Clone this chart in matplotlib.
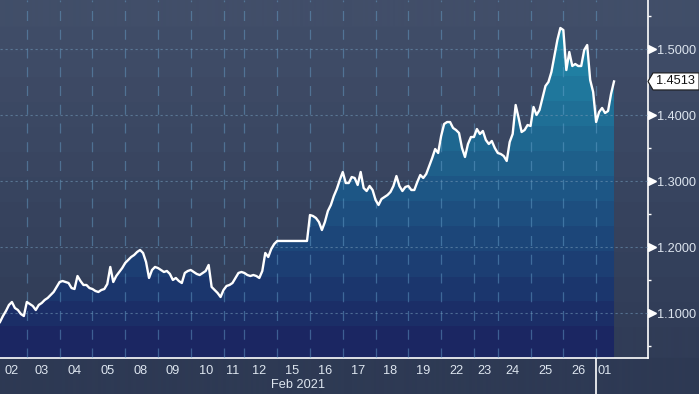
import matplotlib
matplotlib.use('Agg')
import matplotlib.pyplot as plt
import numpy as np
from matplotlib.patches import Polygon
from matplotlib.colors import to_rgb
from matplotlib.transforms import blended_transform_factory, IdentityTransform

plt.rcParams['font.family'] = ['Liberation Sans', 'DejaVu Sans']

# intraday values, one list per trading day (Feb 2021 + 01 Mar)
day_labels = ['02', '03', '04', '05', '08', '09', '10', '11', '12', '15',
              '16', '17', '18', '19', '22', '23', '24', '25', '26', '01']
day_values = [
    [1.0868, 1.0959, 1.1035, 1.1126, 1.1171, 1.1080, 1.1050, 1.0989, 1.0959],
    [1.1171, 1.1141, 1.1111, 1.1050, 1.1126, 1.1156, 1.1202, 1.1232, 1.1277, 1.1323, 1.1399],
    [1.1474, 1.1489, 1.1474, 1.1459, 1.1383, 1.1368, 1.1565, 1.1489, 1.1429, 1.1429, 1.1383],
    [1.1368, 1.1338, 1.1323, 1.1353, 1.1368, 1.1444, 1.1702, 1.1474, 1.1565, 1.1626, 1.1686],
    [1.1762, 1.1808, 1.1853, 1.1883, 1.1929, 1.1959, 1.1914, 1.1777, 1.1535, 1.1656, 1.1702],
    [1.1686, 1.1656, 1.1626, 1.1641, 1.1596, 1.1505, 1.1535, 1.1489, 1.1459, 1.1611, 1.1641],
    [1.1656, 1.1626, 1.1596, 1.1580, 1.1611, 1.1641, 1.1732, 1.1399, 1.1353, 1.1308, 1.1247],
    [1.1353, 1.1414, 1.1429, 1.1459, 1.1535, 1.1611, 1.1626],
    [1.1611, 1.1580, 1.1565, 1.1580, 1.1565, 1.1535, 1.1641, 1.1914, 1.1853, 1.1974, 1.2050],
    [1.2096, 1.2096, 1.2096, 1.2096, 1.2096, 1.2096, 1.2096, 1.2096, 1.2096, 1.2096, 1.2096],
    [1.2489, 1.2474, 1.2444, 1.2383, 1.2262, 1.2383, 1.2550, 1.2641, 1.2777, 1.2883, 1.3020],
    [1.3141, 1.2974, 1.2974, 1.3065, 1.3050, 1.2944, 1.3141, 1.2898, 1.2853, 1.2929, 1.2868],
    [1.2717, 1.2641, 1.2732, 1.2762, 1.2792, 1.2838, 1.2929, 1.3080, 1.2929, 1.2853, 1.2914],
    [1.2929, 1.2868, 1.2868, 1.2989, 1.3095, 1.3050, 1.3111, 1.3232, 1.3353, 1.3489, 1.3429],
    [1.3686, 1.3868, 1.3898, 1.3898, 1.3808, 1.3777, 1.3732, 1.3505, 1.3368, 1.3565, 1.3671],
    [1.3671, 1.3792, 1.3717, 1.3762, 1.3626, 1.3565, 1.3611, 1.3505],
    [1.3429, 1.3414, 1.3383, 1.3308, 1.3595, 1.3717, 1.4156, 1.3959, 1.3747, 1.3777, 1.3853],
    [1.3838, 1.4126, 1.4005, 1.4080, 1.4262, 1.4444, 1.4505, 1.4656, 1.4899, 1.5141, 1.5323],
    [1.5292, 1.4686, 1.4959, 1.4747, 1.4777, 1.4747, 1.4747, 1.4989, 1.5065, 1.4535, 1.4353],
    [1.3898, 1.4050, 1.4111, 1.4035, 1.4065, 1.4323, 1.4513],
]
month_label = 'Feb 2021'
last_value = 1.4513
y_major = [1.1, 1.2, 1.3, 1.4, 1.5]
y_minor = [1.05, 1.15, 1.25, 1.35, 1.45, 1.55]

values = np.concatenate([np.array(d) for d in day_values])
x = np.arange(len(values))
sizes = np.array([len(d) for d in day_values])
starts = np.concatenate([[0], np.cumsum(sizes)[:-1]])
centers = starts + (sizes - 1) / 2.0

YLO, YHI = 1.0318, 1.5747
XMAX = 217.3
BAND0, BANDW = 1.0792, 0.0379


def band_colors(v, c_lo, c_hi, kmax=13):
    k = np.floor((v - BAND0) / BANDW) + 1
    t = np.clip(k / kmax, 0, 1)[:, None]
    return (1 - t) * np.array(to_rgb(c_lo)) + t * np.array(to_rgb(c_hi))


fig = plt.figure(figsize=(6.99, 3.94), dpi=100)

# background (whole figure) with soft bands
bg = fig.add_axes([0, 0, 1, 1], zorder=0)
bg.axis('off')
rows = np.arange(394) + 0.5
vrow = YHI - rows / 660.0
bgcol = band_colors(vrow, '#303c57', '#414e69')
bgcol[rows > 358.3] = to_rgb('#2e3a54')
bg.imshow(bgcol[:, None, :], extent=(0, 1, 0, 1), aspect='auto', origin='upper')
bg.set_xlim(0, 1)
bg.set_ylim(0, 1)

ax = fig.add_axes([0, 0.0906, 0.9266, 0.9094], zorder=1)
ax.set_facecolor('none')
ax.set_xlim(0, XMAX)
ax.set_ylim(YLO, YHI)

# banded area fill
vgrid = np.linspace(YLO, YHI, 600)
fillcol = band_colors(vgrid, '#1b2662', '#2190ae')
im = ax.imshow(fillcol[:, None, :], extent=(0, XMAX, YLO, YHI), aspect='auto',
               origin='lower', zorder=2, interpolation='nearest')
verts = list(zip(x, values)) + [(x[-1], YLO), (0, YLO)]
area = Polygon(verts, closed=True, facecolor='none', edgecolor='none')
ax.add_patch(area)
im.set_clip_path(area)

# grid
for s in starts[1:]:
    ax.axvline(s, color='#6aa6d0', alpha=0.45, lw=0.9, ls=(0, (8, 7)), zorder=3)
for yv in y_major:
    ax.axhline(yv, color='#6f95b5', alpha=0.6, lw=0.8, ls=(0, (2, 2.5)), zorder=3)

ax.plot(x, values, color='white', lw=1.7, zorder=5, solid_joinstyle='round')

# spines
for side in ['top', 'left']:
    ax.spines[side].set_visible(False)
for side in ['right', 'bottom']:
    ax.spines[side].set_color('white')
    ax.spines[side].set_linewidth(1.2)

tick_col = '#dde5ef'
ax.yaxis.tick_right()
ax.set_yticks(y_major, [f'{v:.4f}' for v in y_major])
ax.set_yticks(y_minor, minor=True)
ax.tick_params(axis='y', which='major', length=0, pad=7, labelsize=9.2, labelcolor=tick_col)
ax.tick_params(axis='y', which='minor', length=2.5, width=1, color='white')
ax.set_xticks(centers, day_labels)
ax.tick_params(axis='x', length=0, pad=5, labelsize=9.2, labelcolor=tick_col)

# flag markers at major ticks
ytr = blended_transform_factory(ax.transAxes, ax.transData)
ax.plot([1.0065] * len(y_major), y_major, ls='none', marker='>', ms=5.5, color='white',
        transform=ytr, clip_on=False, zorder=6)

# month separator below the axis
xtr = blended_transform_factory(ax.transData, ax.transAxes)
ax.plot([starts[-1], starts[-1]], [0, -0.11], color='white', lw=1.2,
        transform=xtr, clip_on=False)
ax.text(starts[-1] / 2.0, -0.075, month_label, transform=xtr, ha='center', va='center',
        fontsize=9.2, color=tick_col)

# last value tag
yc = ax.transData.transform((0, last_value))[1]
h = 8.5
tag = Polygon([(648, yc), (653, yc - h), (699, yc - h), (699, yc + h), (653, yc + h)],
              closed=True, facecolor='white', edgecolor='#1a1a1a', lw=0.8,
              transform=IdentityTransform(), zorder=10)
fig.add_artist(tag)
fig.text(656, yc, f'{last_value:.4f}', transform=IdentityTransform(), ha='left', va='center',
         fontsize=9.2, color='#111111', zorder=11)

fig.savefig('out.png', dpi=100, facecolor='#2e3a54')
